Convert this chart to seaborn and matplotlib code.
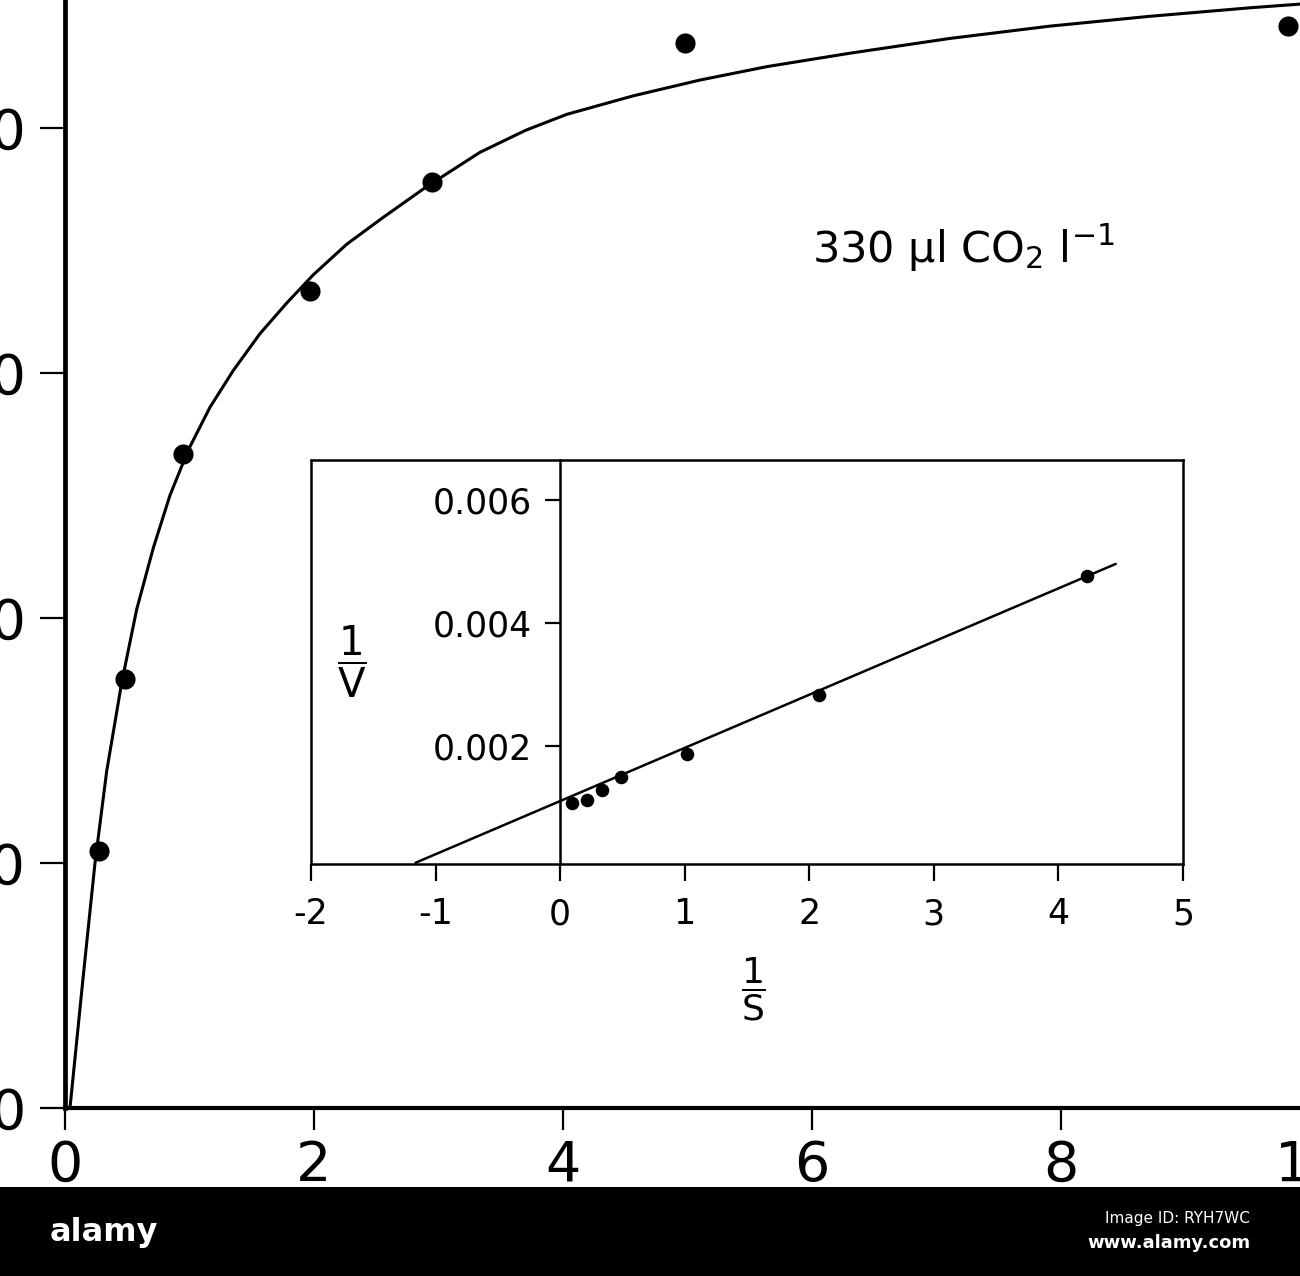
import matplotlib
matplotlib.use("Agg")
import matplotlib.pyplot as plt
import seaborn as sns
from matplotlib import font_manager
from matplotlib.patches import Rectangle
from matplotlib.lines import Line2D

# main plot: substrate vs rate
s_obs = [0.27, 0.48, 0.95, 1.97, 2.95, 4.98, 9.82]
v_obs = [210, 350, 534, 667, 756, 869, 883]

# hand-drawn saturation curve
curve_s = [0.04, 0.147, 0.241, 0.335, 0.455, 0.576, 0.709, 0.843, 0.99, 1.165,
           1.352, 1.566, 1.781, 1.994, 2.263, 2.557, 2.905, 3.333, 3.70, 4.03,
           4.56, 5.10, 5.64, 6.31, 7.11, 7.91, 8.71, 9.52, 9.92]
curve_v = [0, 108, 200, 275, 347, 407, 457, 500, 537, 572,
           602, 632, 657, 680, 705, 727, 752, 780, 798, 811,
           826, 839, 850, 861, 873, 883, 891, 898, 901]

main_xticks = [0, 2, 4, 6, 8, 10]
main_yticks = [0, 200, 400, 600, 800]

# inset: double reciprocal plot
inv_s = [0.097, 0.218, 0.339, 0.49, 1.016, 2.08, 4.23]
inv_v = [0.00107, 0.00112, 0.00128, 0.0015, 0.00187, 0.00283, 0.00476]
fit_x = [-1.16, 4.46]
fit_y = [0.0001, 0.00496]

inset_xticks = [-2, -1, 0, 1, 2, 3, 4, 5]
inset_yticks = [0.002, 0.004, 0.006]
inset_ylabels = ["0.002", "0.004", "0.006"]

sns.set_theme(style="ticks")
plt.rcParams['font.family'] = ['DejaVu Sans']
plt.rcParams['mathtext.fontset'] = 'dejavusans'
plt.rcParams['mathtext.default'] = 'regular'

installed = {f.name for f in font_manager.fontManager.ttflist}
if 'Liberation Sans Narrow' in installed:
    banner_font, banner_size = 'Liberation Sans Narrow', 31
else:
    banner_font, banner_size = 'DejaVu Sans', 23

fig = plt.figure(figsize=(13, 12.76), dpi=100)
fig.patch.set_facecolor('white')

# main axes run past the top and right edge of the picture (scan is cropped)
ax = fig.add_axes([0.05, 0.1317, 1.0269, 0.9467])
ax.set_facecolor('white')
sns.lineplot(x=curve_s, y=curve_v, ax=ax, color='black', linewidth=2.2,
             sort=False, estimator=None)
sns.scatterplot(x=s_obs, y=v_obs, ax=ax, color='black', s=210,
                edgecolor='black', linewidth=0, zorder=3)
ax.set_xlim(0, 10.723)
ax.set_ylim(0, 986)
ax.set_xticks(main_xticks)
ax.set_xticklabels([str(t) for t in main_xticks])
ax.set_yticks(main_yticks)
ax.set_yticklabels([str(t) for t in main_yticks])
for side in ['top', 'right']:
    ax.spines[side].set_visible(False)
ax.spines['left'].set_linewidth(3.4)
ax.spines['bottom'].set_linewidth(3.0)
ax.spines['left'].set_color('black')
ax.spines['bottom'].set_color('black')
ax.tick_params(axis='both', direction='out', colors='black', labelsize=40,
               width=1.6)
ax.tick_params(axis='y', length=18, pad=10)
ax.tick_params(axis='x', length=16, pad=6)
ax.set_xlabel('')
ax.set_ylabel('')

ax.text(6.0, 690, r'330 µl CO$_2$ l$^{-1}$', fontsize=31, color='black',
        ha='left', va='baseline')

# inset
axi = fig.add_axes([0.2392, 0.3229, 0.6708, 0.3166])
axi.set_facecolor('white')
sns.lineplot(x=fit_x, y=fit_y, ax=axi, color='black', linewidth=1.8,
             sort=False, estimator=None)
sns.scatterplot(x=inv_s, y=inv_v, ax=axi, color='black', s=95,
                linewidth=0, zorder=3)
axi.set_xlim(-2, 5)
axi.set_ylim(0.00008, 0.00665)
axi.set_xticks(inset_xticks)
axi.set_xticklabels([str(t) for t in inset_xticks])
axi.set_yticks(inset_yticks)
axi.set_yticklabels(inset_ylabels)
axi.spines['left'].set_position(('data', 0))
for sp in axi.spines.values():
    sp.set_linewidth(1.8)
    sp.set_color('black')
axi.add_line(Line2D([0, 0], [0, 1], transform=axi.transAxes, color='black',
                    linewidth=1.8, clip_on=False))
axi.tick_params(axis='both', direction='out', colors='black', labelsize=25,
                width=1.6, length=11)
axi.tick_params(axis='y', pad=9)
axi.tick_params(axis='x', length=12, pad=12)
axi.set_xlabel('')
axi.set_ylabel('')
axi.text(0.047, 0.5, r'$\dfrac{1}{V}$', transform=axi.transAxes,
         fontsize=29, ha='center', va='center', color='black')
axi.text(0.507, -0.31, r'$\dfrac{1}{S}$', transform=axi.transAxes,
         fontsize=26, ha='center', va='center', color='black')

# stock-photo banner along the bottom
fig.patches.append(Rectangle((0, 0), 1, 89 / 1276, transform=fig.transFigure,
                             facecolor='black', edgecolor='none', zorder=10))
fig.text(50 / 1300, 1 - 1233 / 1276, 'alamy', color='white',
         fontsize=banner_size, fontweight='bold', family=banner_font,
         ha='left', va='center', zorder=11)
fig.text(1250 / 1300, 1 - 1218 / 1276, 'Image ID: RYH7WC', color='white',
         fontsize=11, family=banner_font, ha='right', va='center', zorder=11)
fig.text(1250 / 1300, 1 - 1243 / 1276, 'www.alamy.com', color='white',
         fontsize=13, fontweight='bold', family=banner_font,
         ha='right', va='center', zorder=11)

fig.savefig('out.png', dpi=100, facecolor='white')
